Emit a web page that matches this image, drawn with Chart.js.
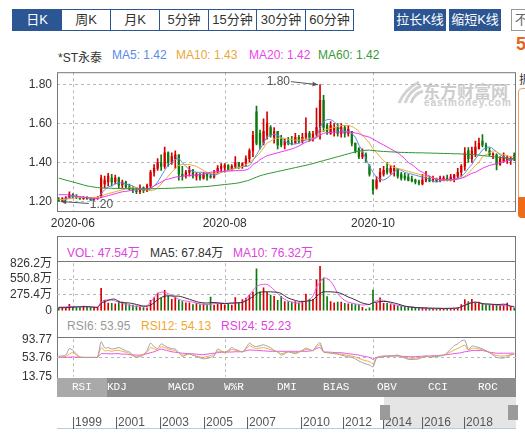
<!DOCTYPE html>
<html>
<head>
<meta charset="utf-8">
<script src="https://cdn.jsdelivr.net/npm/chart.js@4.4.0/dist/chart.umd.min.js"></script>
<style>
body { margin: 0; width: 525px; height: 435px; overflow: hidden; position: relative; background: #fff;
  font-family: Arial, "Liberation Sans", "Noto Sans CJK SC", sans-serif; font-size: 12px; color: #333; }
.abs { position: absolute; white-space: nowrap; }
.btn { position: absolute; top: 9px; height: 22px; line-height: 20px; box-sizing: border-box; border: 1px solid #2c5593;
  background: #fff; color: #333; text-align: center; font-size: 13px; }
.btn.on { background: #2c5593; color: #fff; }
canvas { position: absolute; left: 0; }
.tab { position: absolute; top: 378px; height: 19px; line-height: 19px; color: #fff;
  font-family: "Liberation Mono", "DejaVu Sans Mono", monospace; font-size: 11px; }
.yr { position: absolute; top: 415px; font-size: 12px; color: #555; }
</style>
</head>
<body>

<div class="btn on" style="left:12px;width:50px">日K</div>
<div class="btn" style="left:61px;width:50px">周K</div>
<div class="btn" style="left:110px;width:50px">月K</div>
<div class="btn" style="left:159px;width:50px">5分钟</div>
<div class="btn" style="left:208px;width:49px">15分钟</div>
<div class="btn" style="left:256px;width:50px">30分钟</div>
<div class="btn" style="left:305px;width:49px">60分钟</div>
<div class="btn on" style="left:394px;width:52px">拉长K线</div>
<div class="btn on" style="left:449px;width:52px">缩短K线</div>
<div class="btn" style="left:511px;width:30px;border-color:#999;text-align:left;padding-left:3px;color:#666">不</div>

<div class="abs" style="left:516px;top:34px;color:#e8651e;font-size:18px;font-weight:bold">5</div>
<div class="abs" style="left:519px;top:70px;color:#333;font-size:12px">振</div>
<div class="abs" style="left:518px;top:88px;width:20px;height:130px;box-sizing:border-box;border:1px solid #f0a060;border-radius:4px"></div>
<div class="abs" style="left:518px;top:197px;width:20px;height:21px;background:#f06a1c;border-radius:0 0 4px 4px"></div>

<!-- watermark -->
<svg class="abs" style="left:396px;top:79px" width="28" height="26">
  <path d="M3 24 C7 15 13 8 23 3" stroke="#d2d2d2" stroke-width="3" fill="none"/>
  <path d="M9 24 C12 16 17 10 25 7" stroke="#d2d2d2" stroke-width="3" fill="none"/>
  <path d="M15 24 C17 18 21 14 27 12" stroke="#d2d2d2" stroke-width="3" fill="none"/>
</svg>
<div class="abs" style="left:423px;top:78px;color:#cdcdcd;font-size:17px;font-weight:bold">东方财富网</div>
<div class="abs" style="left:424px;top:97px;color:#cdcdcd;font-size:10px;font-weight:bold;letter-spacing:1px">eastmoney.com</div>

<div class="abs" style="left:58px;top:48px">*ST永泰</div>
<div class="abs" style="left:112px;top:48px;color:#5a8ae6">MA5: 1.42</div>
<div class="abs" style="left:176px;top:48px;color:#e8a838">MA10: 1.43</div>
<div class="abs" style="left:249px;top:48px;color:#ee44ee">MA20: 1.42</div>
<div class="abs" style="left:318px;top:48px;color:#3a9a3a">MA60: 1.42</div>

<div class="abs" style="left:57px;top:236px;width:459px;height:161px;box-sizing:border-box;border:1px solid #777"></div>
<div class="abs" style="left:57px;top:261px;width:459px;height:1px;background:#777"></div>
<div class="abs" style="left:57px;top:337px;width:459px;height:1px;background:#777"></div>

<div class="abs" style="left:67px;top:243px;color:#dd44dd">VOL: 47.54万</div>
<div class="abs" style="left:150px;top:243px;color:#333">MA5: 67.84万</div>
<div class="abs" style="left:233px;top:243px;color:#dd44dd">MA10: 76.32万</div>

<div class="abs" style="left:67px;top:319px;color:#999">RSI6: 53.95</div>
<div class="abs" style="left:141px;top:319px;color:#f0a830">RSI12: 54.13</div>
<div class="abs" style="left:221px;top:319px;color:#dd44dd">RSI24: 52.23</div>

<canvas id="kline" width="525" height="180" style="top:60px"></canvas>
<canvas id="vol" width="525" height="72" style="top:251px"></canvas>
<canvas id="rsi" width="525" height="62" style="top:327px"></canvas>

<div class="abs" style="left:57px;top:378px;width:459px;height:19px;background:#8c8c8c;z-index:2"></div>
<div class="abs" style="left:57px;top:378px;width:50px;height:19px;background:#a9a9a9;z-index:2"></div>
<div style="position:absolute;z-index:3">
  <span class="tab" style="left:72px">RSI</span>
  <span class="tab" style="left:107px">KDJ</span>
  <span class="tab" style="left:168px">MACD</span>
  <span class="tab" style="left:224px">W%R</span>
  <span class="tab" style="left:277px">DMI</span>
  <span class="tab" style="left:323px">BIAS</span>
  <span class="tab" style="left:377px">OBV</span>
  <span class="tab" style="left:428px">CCI</span>
  <span class="tab" style="left:478px">ROC</span>
</div>

<div class="abs" style="left:384px;top:397px;width:132px;height:32px;background:#e5e5e5"></div>
<div class="abs" style="left:57px;top:428px;width:459px;height:1px;background:#b4cbe6"></div>
<span class="yr" style="left:72px">|1999</span>
<span class="yr" style="left:115px">|2001</span>
<span class="yr" style="left:159px">|2003</span>
<span class="yr" style="left:203px">|2005</span>
<span class="yr" style="left:246px">|2007</span>
<span class="yr" style="left:300px">|2010</span>
<span class="yr" style="left:342px">|2012</span>
<span class="yr" style="left:382px">|2014</span>
<span class="yr" style="left:421px">|2016</span>
<span class="yr" style="left:463px">|2018</span>
<div class="abs" style="left:380px;top:405px;width:10px;height:15px;background:#9a9a9a"></div>
<div class="abs" style="left:508px;top:405px;width:10px;height:15px;background:#9a9a9a"></div>

<script>
// daily candles, late May - early Dec 2020
const opens = [1.21,1.205,1.215,1.22,1.235,1.225,1.22,1.215,1.22,1.215,1.21,1.215,
  1.22,1.29,1.30,1.32,1.30,1.32,1.285,1.30,1.275,1.265,1.255,1.25,1.27,1.255,
  1.28,1.35,1.37,1.40,1.38,1.45,1.40,1.42,1.44,1.34,
  1.33,1.35,1.36,1.33,1.34,1.32,1.34,1.33,1.325,1.35,1.37,1.375,
  1.385,1.365,1.38,1.40,1.38,1.395,1.42,1.46,
  1.66,1.55,1.50,1.54,1.58,1.53,1.56,
  1.52,1.49,1.51,1.50,1.50,1.53,1.51,1.53,1.55,1.52,1.545,1.58,
  1.72,1.59,1.55,1.56,1.58,1.55,1.58,1.55,1.56,1.50,
  1.47,1.43,1.44,1.38,1.31,1.27,1.31,1.34,
  1.37,1.35,1.36,1.37,1.34,1.33,1.325,
  1.315,1.31,1.30,1.29,1.31,1.32,1.305,1.315,1.305,1.31,1.32,1.31,
  1.32,1.33,1.35,1.38,1.46,1.42,1.44,1.47,
  1.51,1.49,1.46,1.44,1.44,1.39,1.41,1.41,1.41,1.44];
const highs = [1.22,1.22,1.225,1.25,1.24,1.235,1.225,1.225,1.225,1.22,1.22,1.225,
  1.335,1.33,1.345,1.34,1.335,1.325,1.31,1.305,1.29,1.275,1.27,1.285,1.275,1.29,
  1.36,1.39,1.42,1.44,1.48,1.455,1.45,1.46,1.44,1.38,
  1.36,1.38,1.365,1.35,1.345,1.35,1.35,1.345,1.36,1.385,1.395,1.395,
  1.39,1.39,1.43,1.40,1.40,1.435,1.47,1.56,
  1.69,1.567,1.625,1.66,1.59,1.58,1.56,
  1.54,1.52,1.53,1.535,1.55,1.54,1.55,1.63,1.56,1.56,1.68,1.80,
  1.745,1.60,1.61,1.60,1.60,1.60,1.59,1.59,1.56,1.50,
  1.477,1.47,1.45,1.39,1.312,1.328,1.37,1.38,
  1.40,1.385,1.385,1.37,1.35,1.345,1.34,
  1.33,1.315,1.31,1.34,1.355,1.33,1.33,1.32,1.33,1.33,1.335,1.34,
  1.34,1.37,1.39,1.477,1.477,1.48,1.51,1.526,
  1.543,1.50,1.475,1.45,1.445,1.43,1.45,1.435,1.43,1.45];
const lows = [1.20,1.205,1.21,1.215,1.22,1.215,1.21,1.21,1.21,1.205,1.205,1.21,
  1.22,1.27,1.28,1.28,1.29,1.27,1.27,1.27,1.26,1.245,1.24,1.24,1.245,1.25,
  1.27,1.33,1.36,1.36,1.37,1.38,1.39,1.37,1.31,1.31,
  1.32,1.33,1.32,1.31,1.31,1.315,1.31,1.32,1.32,1.345,1.35,1.35,
  1.36,1.36,1.37,1.37,1.37,1.38,1.40,1.43,
  1.49,1.47,1.49,1.52,1.53,1.50,1.47,
  1.48,1.47,1.49,1.49,1.50,1.50,1.50,1.52,1.51,1.51,1.53,1.52,
  1.56,1.545,1.545,1.535,1.535,1.53,1.53,1.535,1.485,1.45,
  1.42,1.42,1.40,1.33,1.238,1.263,1.30,1.33,
  1.34,1.34,1.33,1.32,1.31,1.31,1.305,
  1.30,1.29,1.285,1.285,1.30,1.30,1.30,1.30,1.30,1.305,1.305,1.305,
  1.30,1.32,1.33,1.36,1.40,1.40,1.43,1.47,
  1.48,1.46,1.435,1.42,1.362,1.385,1.40,1.395,1.39,1.41];
const closes = [1.205,1.215,1.22,1.235,1.225,1.22,1.215,1.22,1.215,1.21,1.215,1.22,
  1.32,1.31,1.33,1.30,1.32,1.285,1.30,1.275,1.265,1.255,1.25,1.27,1.255,1.28,
  1.35,1.37,1.40,1.38,1.45,1.40,1.43,1.44,1.34,1.33,
  1.35,1.36,1.33,1.34,1.32,1.34,1.33,1.325,1.35,1.37,1.38,1.385,
  1.365,1.38,1.40,1.38,1.395,1.42,1.46,1.54,
  1.50,1.49,1.56,1.60,1.54,1.56,1.49,
  1.49,1.51,1.50,1.495,1.53,1.51,1.53,1.55,1.52,1.545,1.58,1.72,
  1.58,1.56,1.59,1.58,1.55,1.58,1.55,1.57,1.50,1.46,
  1.43,1.45,1.41,1.34,1.26,1.31,1.35,1.36,
  1.35,1.37,1.37,1.33,1.32,1.32,1.31,
  1.305,1.30,1.295,1.31,1.32,1.305,1.315,1.305,1.32,1.32,1.31,1.325,
  1.335,1.35,1.38,1.45,1.42,1.46,1.48,1.50,
  1.49,1.47,1.44,1.445,1.39,1.42,1.43,1.425,1.42,1.42];

const ma5 = [1.21,1.21,1.215,1.22,1.225,1.225,1.225,1.22,1.22,1.215,1.215,1.22,
  1.24,1.26,1.275,1.28,1.29,1.295,1.295,
  1.29,1.285,1.28,1.27,1.265,1.26,1.26,1.265,1.28,1.30,1.33,
  1.36,1.385,1.40,1.415,1.42,1.40,
  1.38,1.365,1.355,1.35,1.35,1.35,1.345,1.34,1.335,1.34,1.35,1.355,
  1.36,1.365,1.37,1.375,1.38,1.38,1.385,1.41,
  1.44,1.47,1.50,1.53,1.54,1.545,1.54,
  1.53,1.51,1.50,1.495,1.495,1.50,1.51,1.515,1.52,1.52,1.53,1.58,
  1.61,1.62,1.62,1.61,1.59,1.565,1.56,1.56,1.55,1.53,
  1.49,1.46,1.42,1.38,1.35,1.325,1.315,1.31,
  1.32,1.335,1.35,1.365,1.36,1.35,1.345,
  1.34,1.335,1.33,1.325,1.32,1.315,1.305,1.30,1.305,1.31,1.31,1.31,
  1.315,1.32,1.33,1.345,1.37,1.39,1.42,1.44,
  1.465,1.475,1.48,1.47,1.455,1.44,1.43,1.42,1.41,1.42];
const ma10 = [1.21,1.21,1.21,1.215,1.215,1.22,1.22,1.22,1.22,1.22,1.22,1.22,
  1.225,1.235,1.24,1.245,1.25,1.255,1.26,
  1.265,1.27,1.27,1.27,1.265,1.26,1.26,1.255,1.26,1.27,1.29,
  1.31,1.33,1.35,1.37,1.385,1.39,
  1.39,1.39,1.385,1.38,1.37,1.36,1.35,1.345,1.345,1.345,1.35,1.355,
  1.36,1.365,1.37,1.375,1.38,1.39,1.40,1.415,
  1.43,1.45,1.475,1.50,1.51,1.52,1.525,
  1.525,1.525,1.52,1.52,1.515,1.515,1.52,1.52,1.525,1.525,1.53,1.55,
  1.565,1.57,1.575,1.58,1.585,1.59,1.59,1.59,1.585,1.575,
  1.56,1.54,1.52,1.50,1.47,1.45,1.43,1.41,
  1.395,1.385,1.375,1.37,1.365,1.36,1.355,
  1.35,1.345,1.34,1.335,1.33,1.325,1.32,1.315,1.312,1.31,1.31,1.31,
  1.312,1.315,1.32,1.33,1.345,1.365,1.385,1.40,
  1.43,1.44,1.45,1.46,1.455,1.445,1.44,1.435,1.43,1.43];
const ma20 = [1.235,1.235,1.235,1.232,1.23,1.228,1.225,1.222,1.22,1.218,1.216,1.215,
  1.22,1.225,1.23,1.235,1.24,1.245,1.25,
  1.252,1.255,1.258,1.26,1.262,1.263,1.265,1.27,1.28,1.29,1.30,
  1.31,1.315,1.32,1.325,1.328,1.33,
  1.332,1.334,1.335,1.336,1.338,1.34,1.345,1.35,1.352,1.354,1.355,1.355,
  1.356,1.357,1.358,1.36,1.36,1.362,1.37,1.39,
  1.40,1.415,1.425,1.435,1.44,1.445,1.45,
  1.455,1.46,1.465,1.47,1.477,1.485,1.495,1.505,1.51,1.52,1.53,1.54,
  1.55,1.553,1.555,1.556,1.556,1.556,1.556,1.556,1.555,1.552,
  1.548,1.54,1.535,1.53,1.52,1.51,1.50,1.49,
  1.48,1.47,1.46,1.45,1.435,1.42,1.40,
  1.39,1.375,1.36,1.35,1.34,1.33,1.32,1.315,1.312,1.312,1.312,1.312,
  1.313,1.315,1.32,1.325,1.335,1.345,1.35,1.36,
  1.37,1.378,1.385,1.39,1.395,1.40,1.405,1.41,1.415,1.42];
const ma60 = [1.32,1.315,1.31,1.305,1.30,1.295,1.29,1.285,1.28,1.277,1.274,1.271,
  1.27,1.269,1.268,1.268,1.267,1.267,1.266,
  1.266,1.265,1.265,1.265,1.265,1.265,1.265,1.265,1.266,1.266,1.267,
  1.267,1.268,1.268,1.269,1.27,1.27,
  1.271,1.272,1.273,1.274,1.275,1.276,1.277,1.279,1.281,1.283,1.285,1.287,
  1.289,1.291,1.293,1.296,1.30,1.305,1.31,1.318,
  1.325,1.332,1.337,1.342,1.346,1.35,1.354,
  1.358,1.362,1.366,1.37,1.374,1.378,1.382,1.386,1.39,1.395,1.40,1.405,
  1.41,1.415,1.42,1.425,1.43,1.435,1.44,1.445,1.45,1.455,
  1.458,1.461,1.463,1.464,1.462,1.46,1.458,1.457,
  1.456,1.455,1.454,1.453,1.452,1.452,1.451,
  1.451,1.45,1.45,1.45,1.449,1.449,1.448,1.448,1.447,1.447,1.446,1.446,
  1.445,1.445,1.444,1.443,1.442,1.441,1.44,1.438,
  1.436,1.434,1.432,1.43,1.428,1.426,1.424,1.422,1.42,1.42];

// volume in 万 shares
const volume = [53,55,50,113,60,55,55,80,70,60,60,55,
  390,183,135,130,120,170,150,130,110,100,85,70,55,50,
  180,230,308,220,356,260,200,240,180,160,
  140,140,110,130,110,120,110,240,100,130,130,105,
  120,100,230,140,195,220,275,325,
  730,330,400,320,275,250,180,
  250,160,160,150,160,140,170,290,205,200,535,773,
  567,245,160,140,150,150,130,120,120,110,
  100,60,30,50,361,135,227,130,
  130,108,100,81,80,75,70,
  60,55,50,55,50,45,40,40,40,38,40,45,
  40,50,110,195,162,200,130,150,
  120,110,100,100,110,90,100,135,70,47.54];
const volMa5 = [54,54,54,60,62,65,68,70,72,68,62,
  60,130,160,180,200,200,160,
  145,140,135,125,110,95,81,80,
  100,140,190,230,254,260,258,255,254,
  240,220,200,180,160,145,138,135,
  140,145,140,130,125,130,135,135,140,145,
  170,210,243,300,320,330,
  330,330,325,320,300,260,
  220,200,180,165,162,165,175,
  190,250,300,330,330,330,324,
  320,300,270,240,216,190,160,135,
  120,110,140,150,160,162,
  160,150,135,120,100,81,70,62,
  56,54,52,50,48,46,45,44,42,42,44,46,48,70,
  95,120,140,150,140,125,120,118,
  112,110,110,115,105,80,67.84];
const volMa10 = [65,65,68,72,75,75,72,70,70,68,66,
  70,150,185,190,185,170,150,
  130,110,95,81,78,80,81,90,
  150,230,300,324,320,300,260,230,200,
  180,170,162,150,135,120,110,108,
  115,125,130,135,130,128,132,135,140,150,
  200,280,351,420,450,459,
  459,420,360,300,240,200,
  170,150,135,135,150,170,189,
  260,405,500,567,560,513,420,
  300,230,180,150,135,120,110,100,
  105,110,150,175,189,180,
  160,130,108,95,85,78,72,70,
  60,50,42,38,38,38,38,38,38,38,40,42,50,70,
  108,130,145,150,140,125,108,108,
  105,100,95,90,85,80,76.32];

const rsi6 = [58,58,60,74,70,62,56,55,55,55,55,56,88.6,
  75,76,72.8,74,76,72.8,69,66.5,60,55,57,60,70,
  85.5,78,74,84,80,76,74,72.8,65,57,
  60,63,60,57,54,52,53,55,58,72.8,
  69,66,70,76,72,69.6,66.5,75,85.6,80,
  78,80,82,79,76,70,66.5,60,63,67,
  65,63,66,70,75,72,69.6,80,86.7,66.5,
  65,64,63,62,60,58,56,55,52,47.4,
  44,41,38.6,34.7,53.8,55,56.9,57.5,58,59,
  60,57,53.8,51,50.6,51,52,55,58,55,
  56,57,58,60,65,72.8,80,84,90,91.9,
  71.7,79.2,78,76,73,69.6,65,60,55,53.8,
  53.8,56,60,62];
const rsi12 = [56,56,57,62,66,60,55.5,55,55,55,55,55.5,
  76,69,70,68,70,70,68,66,64,
  58,57,58,62,66,76,73,71,78,
  76,73,71,70,65,60,61,62,
  60,58,56,55,57,59,61,68,
  67,65,68,72,70,68,67,72,80,76,
  74,75,76,74,72,69,67,63,65,67,
  66,65,67,69,72,71,69,77,82,66.5,
  65.5,65,64,63.5,62,60.5,59,58,56,53,
  50,48,46,42,54,56,57,57.5,58,58.5,
  59,57,55,53.5,53,53.5,54.5,56,58,56.5,
  57,58,58.5,59.5,63,67,71,74,78,81,
  70,74.5,74,73,71,69,65.5,62,59,58,
  58,59,61,62];
const rsi24 = [55,55,55,55.5,56,55.5,55,55,55,55,55,55,
  63,63,63,62.5,63,63,62,62,61,
  60.5,60,60,61,63,65,67,70,72.8,
  71,69,67,66,65,64,63.5,63,
  62.5,62,61,61,62,63,64,65,
  66,66,66.5,66.5,67,67,67.5,69,71,70.5,
  70,69.5,69,68.5,68,68,68,68,68,68,
  68,68,68,68,68,68.5,70,74,76,67,
  66.5,66,65.5,65,65,64,63,62,61,60,
  58,57,55,51,55,57,58,58,58,58,
  58,57.5,57,56.5,56.5,56.5,57,57.5,58,58,
  58.5,59,59.5,60,61,62,63,64,65,67,
  68,69.6,69.6,69.6,69.6,68,66,65,64,64,
  64,64,64,64];

const monthIdx = [4, 47, 89];
const monthLabels = ["2020-06", "2020-08", "2020-10"];
const priceTicks = [1.20, 1.40, 1.60, 1.80];
const volTicks = [0, 275.4, 550.8, 826.2];
const rsiTicks = [13.75, 53.76, 93.77];

const RED = "#d40000";
const GREEN = "#0a7a0a";
const GRID = "#b8b8b8";
const DASH = [3, 3];

Chart.defaults.font.family = 'Arial, "Liberation Sans", "Noto Sans CJK SC", sans-serif';
Chart.defaults.font.size = 12;
Chart.defaults.color = "#333";

const candleColors = closes.map((c, i) => c >= opens[i] ? RED : GREEN);
const pts = arr => arr.map((v, i) => ({ x: i, y: v }));

function xAxis(height, showLabels) {
    return {
        type: "linear",
        min: -0.5,
        max: closes.length - 0.5,
        offset: false,
        afterBuildTicks: s => { s.ticks = monthIdx.map(v => ({ value: v })); },
        afterFit: s => { s.height = height; },
        grid: { drawTicks: false, drawOnChartArea: false, color: "transparent" },
        border: { display: false },
        ticks: {
            display: showLabels,
            padding: 4,
            maxRotation: 0,
            autoSkip: false,
            callback: (v, i) => monthLabels[i]
        }
    };
}

function yAxis(min, max, ticks, fmt, gridOn) {
    return {
        min: min,
        max: max,
        afterBuildTicks: s => { s.ticks = ticks.map(v => ({ value: v })); },
        afterFit: s => { s.width = 57; },
        grid: {
            drawTicks: false,
            z: -1,
            color: ctx => gridOn.includes(ctx.tick && ctx.tick.value) ? GRID : "transparent"
        },
        border: { display: false, dash: DASH },
        ticks: { padding: 5, autoSkip: false, callback: fmt }
    };
}

// dashed vertical lines at month starts, placed with the x scale
const monthLines = {
    id: "monthLines",
    beforeDatasetsDraw(chart) {
        const xs = chart.scales.x, a = chart.chartArea, ctx = chart.ctx;
        ctx.save();
        ctx.strokeStyle = GRID;
        ctx.lineWidth = 1;
        ctx.setLineDash(DASH);
        monthIdx.forEach(v => {
            const px = Math.round(xs.getPixelForValue(v)) + 0.5;
            ctx.beginPath();
            ctx.moveTo(px, a.top);
            ctx.lineTo(px, a.bottom);
            ctx.stroke();
        });
        ctx.restore();
    }
};

const frame = {
    id: "frame",
    afterDraw(chart) {
        const a = chart.chartArea, ctx = chart.ctx;
        ctx.save();
        ctx.strokeStyle = "#777";
        ctx.lineWidth = 1;
        ctx.strokeRect(a.left + 0.5, a.top + 0.5, a.right - a.left - 1, a.bottom - a.top - 1);
        ctx.restore();
    }
};

function arrow(ctx, x1, y1, x2, y2) {
    ctx.beginPath();
    ctx.moveTo(x1, y1);
    ctx.lineTo(x2, y2);
    ctx.stroke();
    const ang = Math.atan2(y2 - y1, x2 - x1);
    ctx.beginPath();
    ctx.moveTo(x2, y2);
    ctx.lineTo(x2 - 6 * Math.cos(ang - 0.4), y2 - 6 * Math.sin(ang - 0.4));
    ctx.lineTo(x2 - 6 * Math.cos(ang + 0.4), y2 - 6 * Math.sin(ang + 0.4));
    ctx.closePath();
    ctx.fill();
}

// max / min price markers
const extremes = {
    id: "extremes",
    afterDatasetsDraw(chart) {
        const xs = chart.scales.x, ys = chart.scales.y, ctx = chart.ctx;
        const hi = highs.indexOf(Math.max(...highs));
        const lo = lows.indexOf(Math.min(...lows));
        ctx.save();
        ctx.strokeStyle = "#555";
        ctx.fillStyle = "#555";
        ctx.lineWidth = 1;
        ctx.font = '12px Arial, "Liberation Sans", sans-serif';
        ctx.textBaseline = "middle";

        let px = xs.getPixelForValue(hi), py = ys.getPixelForValue(highs[hi]);
        arrow(ctx, px - 29, py - 3, px - 2, py);
        ctx.textAlign = "right";
        ctx.fillText(highs[hi].toFixed(2), px - 30, py - 3);

        px = xs.getPixelForValue(lo);
        py = ys.getPixelForValue(lows[lo]);
        arrow(ctx, px + 30, py + 2, px + 2, py);
        ctx.textAlign = "left";
        ctx.fillText(lows[lo].toFixed(2), px + 31, py + 3);
        ctx.restore();
    }
};

function maLine(data, color) {
    return {
        type: "line", data: pts(data), borderColor: color, borderWidth: 1,
        pointRadius: 0, tension: 0.3, order: 0
    };
}

new Chart(document.getElementById("kline"), {
    type: "bar",
    data: {
        datasets: [
            maLine(ma60, "#2f942f"),
            maLine(ma20, "#ee33ee"),
            maLine(ma10, "#e8a838"),
            maLine(ma5, "#5a8ae6"),
            {
                data: lows.map((l, i) => ({ x: i, y: [l, highs[i]] })),
                backgroundColor: candleColors, barThickness: 1, grouped: false, order: 2
            },
            {
                data: opens.map((o, i) => ({ x: i, y: [o, closes[i]] })),
                backgroundColor: candleColors, barThickness: 1.6, minBarLength: 1, grouped: false, order: 1
            }
        ]
    },
    options: {
        responsive: false,
        animation: false,
        layout: { padding: { top: 7, right: 9, left: 0, bottom: 0 } },
        plugins: { legend: { display: false }, tooltip: { enabled: false } },
        scales: {
            x: xAxis(28, true),
            y: yAxis(1.146, 1.864, priceTicks, v => v.toFixed(2), priceTicks)
        }
    },
    plugins: [monthLines, frame, extremes]
});

new Chart(document.getElementById("vol"), {
    type: "bar",
    data: {
        datasets: [
            { type: "line", data: pts(volMa5), borderColor: "#333", borderWidth: 1, pointRadius: 0, tension: 0.3, order: 0 },
            { type: "line", data: pts(volMa10), borderColor: "#ee55ee", borderWidth: 1, pointRadius: 0, tension: 0.3, order: 0 },
            { data: pts(volume), backgroundColor: candleColors, barThickness: 1, grouped: false, order: 1 }
        ]
    },
    options: {
        responsive: false,
        animation: false,
        layout: { padding: { top: 10, right: 9, left: 0, bottom: 10 } },
        plugins: { legend: { display: false }, tooltip: { enabled: false } },
        scales: {
            x: xAxis(0, false),
            y: yAxis(0, 826.2, volTicks, v => v === 0 ? "0" : v + "万", [275.4, 550.8])
        }
    },
    plugins: [monthLines]
});

new Chart(document.getElementById("rsi"), {
    type: "line",
    data: {
        datasets: [
            { data: pts(rsi6), borderColor: "#a0a0a0", borderWidth: 1, pointRadius: 0, tension: 0.2 },
            { data: pts(rsi12), borderColor: "#f2a93b", borderWidth: 1, pointRadius: 0, tension: 0.2 },
            { data: pts(rsi24), borderColor: "#e84ee8", borderWidth: 1, pointRadius: 0, tension: 0.2 }
        ]
    },
    options: {
        responsive: false,
        animation: false,
        layout: { padding: { top: 10, right: 9, left: 0, bottom: 10 } },
        plugins: { legend: { display: false }, tooltip: { enabled: false } },
        scales: {
            x: xAxis(0, false),
            y: yAxis(13.75, 93.77, rsiTicks, v => v.toFixed(2), [53.76])
        }
    },
    plugins: [monthLines]
});
</script>
</body>
</html>
